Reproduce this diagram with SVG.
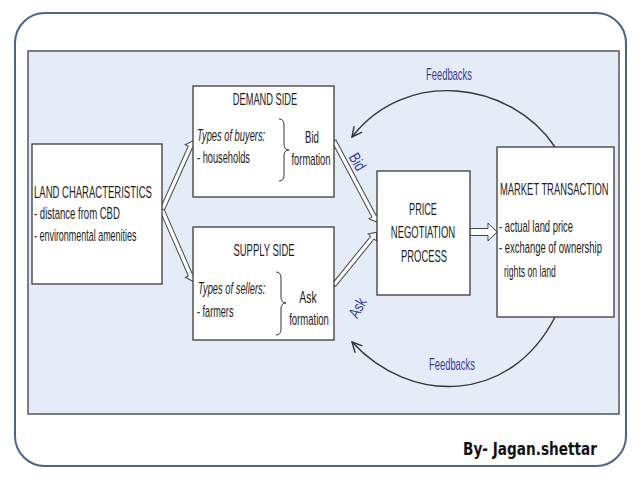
<svg xmlns="http://www.w3.org/2000/svg" width="638" height="479" viewBox="0 0 638 479">
<defs>
<style>
.box{fill:#fff;stroke:#3a3a3a;stroke-width:1.3}
.t{font-family:"Liberation Sans",Arial,sans-serif;font-size:16px;fill:#1c1c1c}
.it{font-style:italic}
.mid{text-anchor:middle}
.fb{fill:#3a3a9e}
.blk{fill:#fff;stroke:#444;stroke-width:1}
.curve{fill:none;stroke:#333;stroke-width:1.4;marker-end:url(#open)}
.brace{fill:none;stroke:#333;stroke-width:1}
</style>
<marker id="open" viewBox="0 0 12 12" refX="11" refY="6" markerWidth="12" markerHeight="12" markerUnits="userSpaceOnUse" orient="auto">
<path d="M1,1 L11,6 L1,11" fill="none" stroke="#333" stroke-width="1.4"/>
</marker>
</defs>
<rect x="0" y="0" width="638" height="479" fill="#fff"/>
<rect x="15" y="13" width="611" height="453" rx="30" ry="30" fill="#fff" stroke="#4a6585" stroke-width="2"/>
<rect x="28" y="51" width="591" height="363" fill="#e5ecf7" stroke="#555" stroke-width="1.5"/>

<g id="connectors">
<g transform="translate(162,210) rotate(-65.8)"><polygon class="blk" points="0,-2.2 69,-2.2 69,-5.5 76,0 69,5.5 69,2.2 0,2.2"/></g>
<g transform="translate(162,210) rotate(66.4)"><polygon class="blk" points="0,-2.2 71,-2.2 71,-5.5 78,0 71,5.5 71,2.2 0,2.2"/></g>
<g transform="translate(334,141) rotate(62)"><polygon class="blk" points="0,-2.2 85,-2.2 85,-5.5 92,0 85,5.5 85,2.2 0,2.2"/></g>
<g transform="translate(334,285) rotate(-51)"><polygon class="blk" points="0,-2.2 61,-2.2 61,-5.5 68,0 61,5.5 61,2.2 0,2.2"/></g>
<g transform="translate(470,232)"><polygon class="blk" points="0,-3.5 18,-3.5 18,-9 27,0 18,9 18,3.5 0,3.5"/></g>
<path class="curve" d="M555,147 C510,80 405,68 352,137"/>
<path class="curve" d="M555,317 C510,405 410,405 352,342"/>
<text class="t fb" transform="translate(426,80) scale(0.587,1)">Feedbacks</text>
<text class="t fb" transform="translate(429,370) scale(0.587,1)">Feedbacks</text>
<text class="t fb mid" transform="translate(357,162) rotate(60) scale(0.75,1)" dy="5" font-size="15">Bid</text>
<text class="t fb mid" transform="translate(358,308) rotate(-60) scale(0.75,1)" dy="5" font-size="15">Ask</text>
</g>

<g id="land">
<rect class="box" x="32" y="144" width="130" height="140"/>
<text class="t" transform="translate(34,198) scale(0.595,1)">LAND CHARACTERISTICS</text>
<text class="t" transform="translate(34,219) scale(0.597,1)">- distance from CBD</text>
<text class="t" transform="translate(34,241) scale(0.56,1)">- environmental amenities</text>
</g>

<g id="demand">
<rect class="box" x="193" y="86" width="141" height="111"/>
<text class="t mid" transform="translate(265,105) scale(0.58,1)">DEMAND SIDE</text>
<text class="t it" transform="translate(197,141) scale(0.583,1)">Types of buyers:</text>
<text class="t" transform="translate(197,163) scale(0.579,1)">- households</text>
<path class="brace" d="M279,119 Q284,119 284,125 L284,144 Q284,150 289,150 Q284,150 284,156 L284,175 Q284,181 279,181"/>
<text class="t mid" transform="translate(312,143) scale(0.6,1)">Bid</text>
<text class="t mid" transform="translate(311,165) scale(0.585,1)">formation</text>
</g>

<g id="supply">
<rect class="box" x="193" y="227" width="141" height="113"/>
<text class="t mid" transform="translate(264,256) scale(0.59,1)">SUPPLY SIDE</text>
<text class="t it" transform="translate(198,294) scale(0.584,1)">Types of sellers:</text>
<text class="t" transform="translate(197,317) scale(0.57,1)">- farmers</text>
<path class="brace" d="M276,272 Q281,272 281,278 L281,297 Q281,303 286,303 Q281,303 281,309 L281,329 Q281,335 276,335"/>
<text class="t mid" transform="translate(308,303) scale(0.65,1)">Ask</text>
<text class="t mid" transform="translate(309,325) scale(0.595,1)">formation</text>
</g>

<g id="price">
<rect class="box" x="377" y="171" width="93" height="124"/>
<text class="t mid" transform="translate(423,215) scale(0.57,1)">PRICE</text>
<text class="t mid" transform="translate(423,238) scale(0.59,1)">NEGOTIATION</text>
<text class="t mid" transform="translate(424,262) scale(0.588,1)">PROCESS</text>
</g>

<g id="market">
<rect class="box" x="497" y="147" width="117" height="170"/>
<text class="t" transform="translate(500,195) scale(0.587,1)">MARKET TRANSACTION</text>
<text class="t" transform="translate(499,232) scale(0.586,1)">- actual land price</text>
<text class="t" transform="translate(499,253) scale(0.591,1)">- exchange of ownership</text>
<text class="t" transform="translate(504,277) scale(0.54,1)">rights on land</text>
</g>

<text x="463" y="455" font-family="'DejaVu Sans',Verdana,sans-serif" font-weight="bold" font-size="17" fill="#111" textLength="134" lengthAdjust="spacingAndGlyphs">By- Jagan.shettar</text>
</svg>
